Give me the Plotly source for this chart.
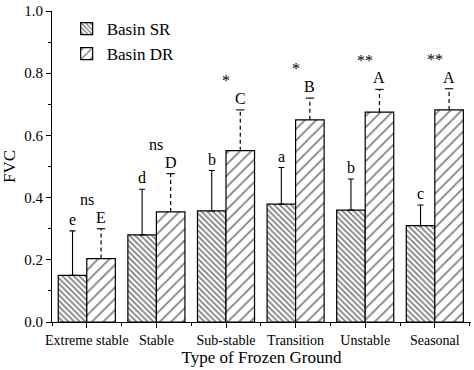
import plotly.graph_objects as go

categories = ["Extreme stable", "Stable", "Sub-stable", "Transition", "Unstable", "Seasonal"]
sr_values = [0.150, 0.280, 0.357, 0.379, 0.360, 0.310]
sr_err = [0.143, 0.147, 0.130, 0.118, 0.100, 0.066]
dr_values = [0.204, 0.354, 0.551, 0.650, 0.675, 0.682]
dr_err = [0.096, 0.123, 0.131, 0.070, 0.073, 0.068]
sr_letters = ["e", "d", "b", "a", "b", "c"]
dr_letters = ["E", "D", "C", "B", "A", "A"]
sig_marks = ["ns", "ns", "*", "*", "**", "**"]

FONT = "Liberation Serif"
BW = 0.41
idx = list(range(len(categories)))
x_sr = [i - BW / 2 for i in idx]
x_dr = [i + BW / 2 for i in idx]
sr_top = [v + e for v, e in zip(sr_values, sr_err)]
dr_top = [v + e for v, e in zip(dr_values, dr_err)]

fig = go.Figure()
fig.add_trace(go.Bar(
    x=idx, y=sr_values, name="Basin SR", offset=-BW, width=BW,
    marker=dict(color="white", line=dict(color="black", width=1.2),
                pattern=dict(shape="\\", size=4, solidity=0.45, fgcolor="black", bgcolor="white")),
))
fig.add_trace(go.Bar(
    x=idx, y=dr_values, name="Basin DR", offset=0, width=BW,
    marker=dict(color="white", line=dict(color="black", width=1.2),
                pattern=dict(shape="/", size=8, solidity=0.22, fgcolor="black", bgcolor="white")),
))
# SR error bars (solid)
fig.add_trace(go.Scatter(
    x=x_sr, y=sr_values, mode="markers", marker=dict(size=1, color="rgba(0,0,0,0)"),
    error_y=dict(type="data", symmetric=False, array=sr_err, arrayminus=[0] * len(sr_err),
                 color="black", thickness=1.1, width=3),
    showlegend=False, hoverinfo="skip",
))
# DR error bars (dashed)
ex, ey = [], []
for x, v, t in zip(x_dr, dr_values, dr_top):
    ex += [x, x, None]
    ey += [v, t, None]
fig.add_trace(go.Scatter(
    x=ex, y=ey, mode="lines", line=dict(color="black", width=1.2, dash="4px,3px"),
    showlegend=False, hoverinfo="skip",
))
fig.add_trace(go.Scatter(
    x=x_dr, y=dr_top, mode="markers",
    marker=dict(symbol="line-ew", size=6, line=dict(color="black", width=1.1)),
    showlegend=False, hoverinfo="skip",
))

for i in idx:
    fig.add_annotation(x=x_sr[i], y=sr_top[i] + 0.003, text=sr_letters[i], showarrow=False,
                       xanchor="center", yanchor="bottom", font=dict(family=FONT, size=16, color="black"))
    fig.add_annotation(x=x_dr[i], y=dr_top[i] + 0.003, text=dr_letters[i], showarrow=False,
                       xanchor="center", yanchor="bottom", font=dict(family=FONT, size=16, color="black"))
    top = max(sr_top[i], dr_top[i])
    fig.add_annotation(x=i, y=top + 0.06, text=sig_marks[i], showarrow=False,
                       xanchor="center", yanchor="bottom", font=dict(family=FONT, size=16, color="black"))

fig.update_layout(
    width=474, height=370,
    margin=dict(l=52, r=3, t=8, b=48),
    paper_bgcolor="white", plot_bgcolor="white",
    barmode="overlay",
    font=dict(family=FONT, size=14, color="black"),
    legend=dict(x=0.035, y=1.0, xanchor="left", yanchor="top", bgcolor="rgba(0,0,0,0)",
                font=dict(family=FONT, size=17), tracegroupgap=0, itemwidth=30),
    showlegend=True,
)
fig.update_xaxes(
    range=[-0.5, 5.52], tickmode="array", tickvals=idx, ticktext=categories,
    ticks="outside", ticklen=5, tickcolor="black", showline=True, linecolor="black", linewidth=1.2,
    showgrid=False, zeroline=False, tickfont=dict(family=FONT, size=14),
    minor=dict(ticks="outside", ticklen=3, tickcolor="black", tickmode="linear", tick0=0.5, dtick=1, showgrid=False),
    title=dict(text="Type of Frozen Ground", font=dict(family=FONT, size=17), standoff=4),
)
fig.update_yaxes(
    range=[0, 1.0], tickmode="linear", tick0=0, dtick=0.2, tickformat=".1f",
    ticks="outside", ticklen=5, tickcolor="black", showline=True, linecolor="black", linewidth=1.2,
    showgrid=False, zeroline=False, tickfont=dict(family=FONT, size=15),
    minor=dict(ticks="outside", ticklen=3, tickcolor="black", dtick=0.1, showgrid=False),
    title=dict(text="FVC", font=dict(family=FONT, size=17), standoff=6),
)

fig.write_html("out.html", config={"displayModeBar": False},
               post_script="document.body.style.margin='0';document.body.style.padding='0';")
